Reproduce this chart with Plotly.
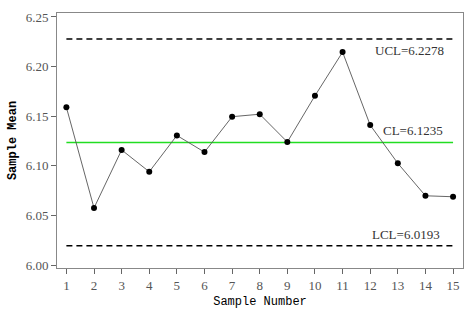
import plotly.graph_objects as go

samples = list(range(1, 16))
means = [6.159, 6.0575, 6.116, 6.094, 6.1306, 6.1138, 6.1495, 6.152, 6.124,
         6.1706, 6.2146, 6.141, 6.1025, 6.0698, 6.0688]
ucl = 6.2278
cl = 6.1235
lcl = 6.0193
ytick_vals = [6.00, 6.05, 6.10, 6.15, 6.20, 6.25]
ytick_text = ["6.00", "6.05", "6.10", "6.15", "6.20", "6.25"]

fig = go.Figure()
fig.add_trace(go.Scatter(x=[samples[0], samples[-1]], y=[ucl, ucl], mode="lines",
                         line=dict(color="black", width=1.5, dash="6px,4px"), hoverinfo="skip"))
fig.add_trace(go.Scatter(x=[samples[0], samples[-1]], y=[lcl, lcl], mode="lines",
                         line=dict(color="black", width=1.5, dash="6px,4px"), hoverinfo="skip"))
fig.add_trace(go.Scatter(x=[samples[0], samples[-1]], y=[cl, cl], mode="lines",
                         line=dict(color="#22dd22", width=1.3), hoverinfo="skip"))
fig.add_trace(go.Scatter(x=samples, y=means, mode="lines+markers",
                         line=dict(color="#555555", width=0.9),
                         marker=dict(color="black", size=6)))

ann_font = dict(family="Liberation Serif", size=13, color="#333333")
for label, val, xpos, yshift in [("UCL=6.2278", ucl, 14.76, -11),
                                 ("CL=6.1235", cl, 14.69, 12),
                                 ("LCL=6.0193", lcl, 14.6, 11)]:
    fig.add_annotation(x=xpos, y=val, text=label, showarrow=False, xanchor="right",
                       yanchor="middle", yshift=yshift, font=ann_font)

axis_common = dict(showgrid=False, zeroline=False, showline=True, linecolor="#888888",
                   linewidth=1, ticks="outside", ticklen=5, tickcolor="#666666",
                   tickfont=dict(family="Liberation Serif", size=13, color="#555555"))
fig.update_xaxes(range=[0.66, 15.36], tickvals=samples, mirror=True,
                 title=dict(text="Sample Number", standoff=5,
                            font=dict(family="Liberation Mono", size=12, color="black")),
                 **axis_common)
fig.update_yaxes(range=[5.997, 6.254], tickvals=ytick_vals, ticktext=ytick_text, mirror=True,
                 title=dict(text="<b>Sample Mean</b>", standoff=6,
                            font=dict(family="Liberation Mono", size=12, color="black")),
                 **axis_common)
fig.update_layout(width=474, height=316, showlegend=False,
                  margin=dict(l=57, r=10, t=12, b=45),
                  plot_bgcolor="white", paper_bgcolor="white")
fig.write_html("out.html")
